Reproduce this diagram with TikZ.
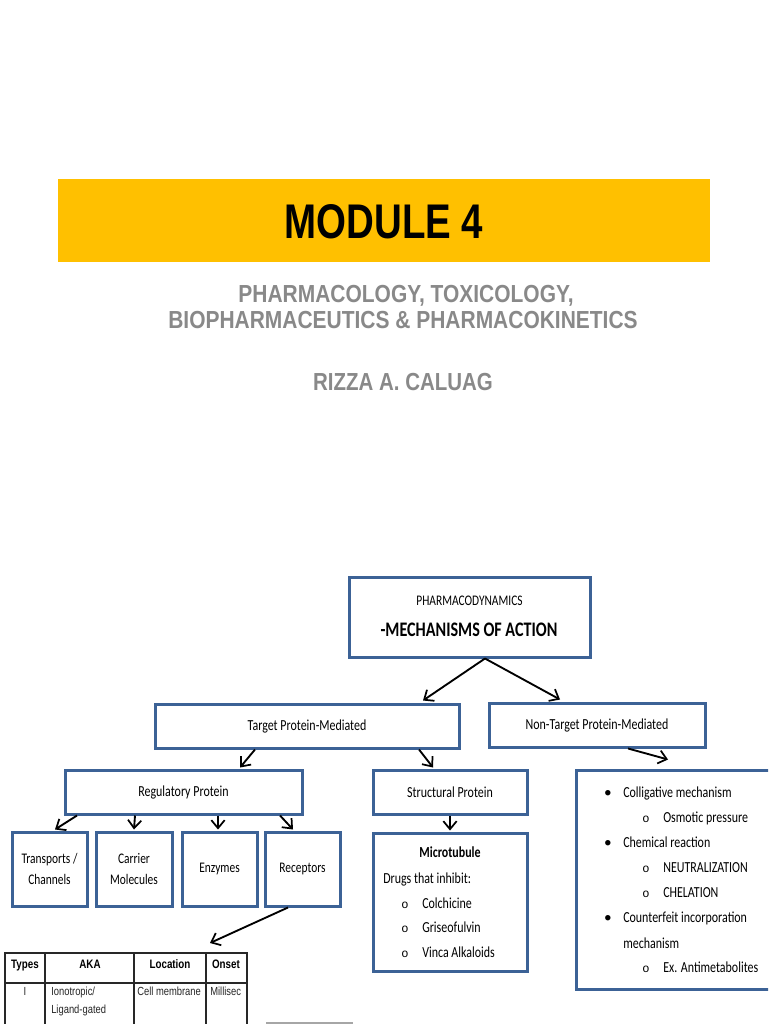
\documentclass[tikz,border=0pt]{standalone}
\usepackage{fontspec}
\setmainfont{Carlito}
\newfontfamily\arialf{Liberation Sans}
\newfontfamily\monof{Liberation Mono}
\usetikzlibrary{arrows.meta}
\definecolor{gold}{RGB}{255,192,0}
\definecolor{boxblue}{RGB}{60,98,150}
\definecolor{subgray}{RGB}{137,137,137}
\definecolor{tabline}{RGB}{40,40,40}
\newcommand\nx[1]{\scalebox{0.78}[1]{#1}}
\newcommand\nar[1]{\scalebox{0.8}[1]{#1}}
\newcommand\ttl[1]{\scalebox{0.85}[1]{#1}}
\begin{document}
\begin{tikzpicture}[x=0.75pt,y=-0.75pt,
  bx/.style={draw=boxblue,line width=2.25pt,fill=white,inner sep=0pt,align=center,
             font=\fontsize{11.5}{15.75}\selectfont},
  arr/.style={-{Straight Barb[length=6pt,width=10pt,line width=1.3pt]},line width=1.4pt,black},
  txt/.style={inner sep=0pt,text height=11.5pt,text depth=3pt,font=\fontsize{11.5}{14}\selectfont},
  circ/.style={txt,font=\monof\fontsize{9}{10}\selectfont},
  sub/.style={inner sep=0pt,text=subgray,font=\arialf\bfseries\fontsize{18.5}{20}\selectfont},
  tb/.style={inner sep=0pt,text height=6.5pt,text depth=2pt,font=\arialf\fontsize{8.8}{11}\selectfont,text=black!85},
  tbh/.style={inner sep=0pt,text height=7pt,text depth=2pt,font=\arialf\bfseries\fontsize{9.2}{11}\selectfont}]
\useasboundingbox (0,0) rectangle (768,1024);
\clip (0,0) rectangle (768,1024);
\fill[white] (0,0) rectangle (768,1024);

% title bar
\fill[gold] (58,179) rectangle (710,262);
\node[inner sep=0pt,font=\arialf\bfseries\fontsize{36.5}{40}\selectfont] (mod) at (384,222) {\scalebox{0.79}[1]{MODULE 4}};
\node[sub] (sub1) at (406,296) {\ttl{PHARMACOLOGY, TOXICOLOGY,}};
\node[sub] (sub2) at (403,320) {\ttl{BIOPHARMACEUTICS \& PHARMACOKINETICS}};
\node[sub] (auth) at (403,382) {\scalebox{0.83}[1]{RIZZA A. CALUAG}};

% top box
\node[bx,minimum width=180.75pt,minimum height=60pt] (pd) at (470,617) {};
\node[inner sep=0pt,font=\fontsize{11}{12}\selectfont] (pdt) at (469.5,601) {\nx{PHARMACODYNAMICS}};
\node[inner sep=0pt,font=\bfseries\fontsize{15.5}{17}\selectfont] (moa) at (469,630) {\nx{-MECHANISMS OF ACTION}};

% second level
\node[bx,minimum width=228pt,minimum height=33pt] (tpm) at (307,726) {\nx{Target Protein-Mediated}};
\node[bx,minimum width=162pt,minimum height=33pt] (ntpm) at (597,725) {\nx{Non-Target Protein-Mediated}};
\draw[arr] ([xshift=11.25pt]pd.south) -- ([xshift=87pt,yshift=1.5pt]tpm.north);
\draw[arr] ([xshift=11.25pt]pd.south) -- ([xshift=-27.75pt,yshift=1.5pt]ntpm.north);

% third level
\node[bx,minimum width=177.75pt,minimum height=33pt] (reg) at (183.5,792) {\nx{Regulatory Protein}};
\node[bx,minimum width=115.5pt,minimum height=33pt] (struct) at (450,792) {\nx{Structural Protein}};
\draw[arr] ([xshift=-39pt]tpm.south) -- ([xshift=42.4pt,yshift=0.75pt]reg.north);
\draw[arr] ([xshift=84pt]tpm.south) -- ([xshift=-12.75pt,yshift=0.75pt]struct.north);

% right box
\node[bx,minimum width=168pt,minimum height=164.25pt] (rb) at (688,879.5) {};
\draw[arr] ([xshift=23.25pt]ntpm.south) -- ([xshift=-15pt,yshift=6.75pt]rb.north);
\node[txt] (b1) at (608,792) {\textbullet};
\node[txt,anchor=west] (r1) at (623,792) {\nx{Colligative mechanism}};
\node[circ] (c1) at (646,817) {o};
\node[txt,anchor=west] (r2) at (663,817) {\nx{Osmotic pressure}};
\node[txt] (b2) at (608,842) {\textbullet};
\node[txt,anchor=west] (r3) at (623,842) {\nx{Chemical reaction}};
\node[circ] (c2) at (646,867) {o};
\node[txt,anchor=west] (r4) at (663,867) {\nx{NEUTRALIZATION}};
\node[circ] (c3) at (646,892) {o};
\node[txt,anchor=west] (r5) at (663,892) {\nx{CHELATION}};
\node[txt] (b3) at (608,917) {\textbullet};
\node[txt,anchor=west] (r6) at (623,917) {\nx{Counterfeit incorporation}};
\node[txt,anchor=west] (r7) at (623,943) {\nx{mechanism}};
\node[circ] (c4) at (646,967) {o};
\node[txt,anchor=west] (r8) at (663,967) {\nx{Ex. Antimetabolites}};

% microtubule
\node[bx,minimum width=115.5pt,minimum height=103.5pt] (micro) at (450,902) {};
\draw[arr] (struct.south) -- ([yshift=0.75pt]micro.north);
\node[txt,font=\bfseries\fontsize{11.5}{14}\selectfont] (mt) at (450,852) {\nx{Microtubule}};
\node[txt,anchor=west] (dti) at (383,878) {\nx{Drugs that inhibit:}};
\node[circ] (m1) at (405,903) {o};
\node[txt,anchor=west] (m1t) at (422,903) {\nx{Colchicine}};
\node[circ] (m2) at (405,927) {o};
\node[txt,anchor=west] (m2t) at (422,927) {\nx{Griseofulvin}};
\node[circ] (m3) at (405,952) {o};
\node[txt,anchor=west] (m3t) at (422,952) {\nx{Vinca Alkaloids}};

% fourth level
\node[bx,minimum width=56.25pt,minimum height=55.5pt,font=\fontsize{11}{15.75}\selectfont] (trans) at (49.5,869) {\nx{Transports /}\\\nx{Channels}};
\node[bx,minimum width=57pt,minimum height=55.5pt,font=\fontsize{11}{15.75}\selectfont] (carr) at (134,869) {\nx{Carrier}\\\nx{Molecules}};
\node[bx,minimum width=56.25pt,minimum height=55.5pt,font=\fontsize{11}{15.75}\selectfont] (enz) at (219.5,869) {\nx{Enzymes}};
\node[bx,minimum width=56.25pt,minimum height=55.5pt,font=\fontsize{11}{15.75}\selectfont] (rec) at (302.5,869) {\nx{Receptors}};
\draw[arr] ([xshift=-79.875pt]reg.south) -- ([xshift=4.125pt,yshift=0.75pt]trans.north);
\draw[arr] ([xshift=-36.375pt]reg.south) -- ([yshift=0.75pt]carr.north);
\draw[arr] ([xshift=25.875pt]reg.south) -- ([xshift=-1.125pt,yshift=0.75pt]enz.north);
\draw[arr] ([xshift=72.375pt]reg.south) -- ([xshift=-7.125pt,yshift=0.75pt]rec.north);

% table
\coordinate (tabtip) at (210,943);
\draw[arr] ([xshift=-10.875pt]rec.south) -- (tabtip);
\draw[tabline,line width=1pt] (5,1030) -- (5,953) -- (247,953) -- (247,1030);
\draw[tabline,line width=1pt] (5,983) -- (247,983);
\draw[tabline,line width=1pt] (45,953) -- (45,1030);
\draw[tabline,line width=1pt] (134,953) -- (134,1030);
\draw[tabline,line width=1pt] (206,953) -- (206,1030);
\node[tbh] (h1) at (25,965) {\nar{Types}};
\node[tbh] (h2) at (90,965) {\nar{AKA}};
\node[tbh] (h3) at (170,965) {\nar{Location}};
\node[tbh] (h4) at (226,965) {\nar{Onset}};
\node[tb] (t1) at (25,992) {\nar{I}};
\node[tb,anchor=west] (t2) at (51,992) {\nar{Ionotropic/}};
\node[tb,anchor=west] (t3) at (51,1010) {\nar{Ligand-gated}};
\node[tb,anchor=west] (t4) at (137,992) {\nar{Cell membrane}};
\node[tb,anchor=west] (t5) at (210,992) {\nar{Millisec}};

% fragment at bottom
\draw[gray!70,line width=1.2pt] (266,1023) -- (353,1023);
\end{tikzpicture}
\end{document}
